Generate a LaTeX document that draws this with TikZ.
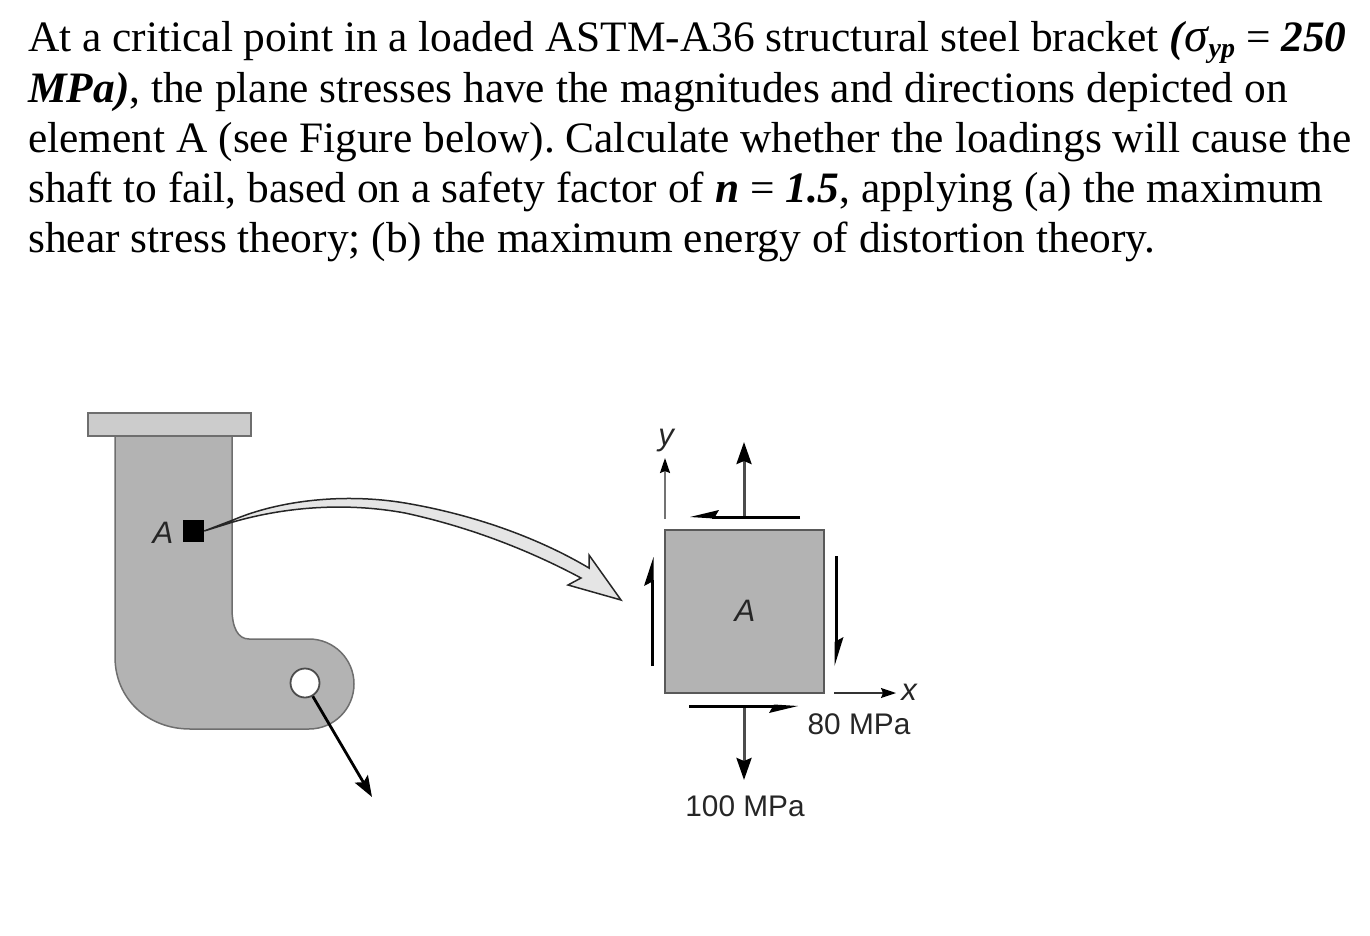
\documentclass[tikz,border=0pt]{standalone}
\usepackage{fontspec}
\setmainfont{Liberation Serif}
\newfontfamily\labelfont{Liberation Sans}
\usetikzlibrary{arrows.meta}
\definecolor{steel}{HTML}{B3B3B3}
\definecolor{plate}{HTML}{CCCCCC}
\definecolor{edge}{HTML}{6E6E6E}
\tikzset{
  textline/.style={anchor=base west,inner sep=0pt,font=\fontsize{43.4}{50}\selectfont\frenchspacing},
  dlabel/.style={inner sep=0pt,font=\labelfont\fontsize{29.8}{32}\selectfont,text=black!85},
  ilabel/.style={inner sep=0pt,font=\labelfont\itshape\fontsize{31}{32}\selectfont,text=black!85},
  stress/.style={draw=black!70,line width=3pt,-{Stealth[length=22pt,width=15pt,inset=3pt,black]}},
  axisline/.style={draw=black!55,line width=1.8pt,-{Stealth[length=15pt,width=10pt,inset=2pt,black]}},
  xaxisline/.style={draw=black!80,line width=1.4pt,-{Stealth[length=15pt,width=10pt,inset=2pt,black]}},
  load/.style={draw=black,line width=2.8pt,-{Stealth[length=21pt,width=15pt,inset=4pt,black]}},
  shear/.style={draw=black,line width=3pt},
  halfhead/.style={fill=black},
}
\begin{document}
\begin{tikzpicture}[x=1pt,y=-1pt]
\useasboundingbox (0,0) rectangle (1370,936);
% problem text
\node[textline] (t1) at (28,52) {At a critical point in a loaded ASTM-A36 structural steel bracket {\bfseries\itshape(}\kern1pt{\itshape\fontsize{48}{50}\selectfont σ}{\bfseries\itshape\raisebox{-6pt}{\fontsize{28}{30}\selectfont yp}}\kern 11pt{}= {\bfseries\itshape 250}};
\node[textline] (t2) at (28,102.5) {{\bfseries\itshape MPa)}, the plane stresses have the magnitudes and directions depicted on};
\node[textline] (t3) at (28,152.5) {element A (see Figure below). Calculate whether the loadings will cause the};
\node[textline] (t4) at (28,202.5) {shaft to fail, based on a safety factor of {\bfseries\itshape n} = {\bfseries\itshape 1.5}, applying (a) the maximum};
\node[textline] (t5) at (28,252.5) {shear stress theory; (b) the maximum energy of distortion theory.};
% bracket
\draw[fill=steel,draw=edge,line width=1.5pt]
  (115,436) -- (115,657) .. controls (115,699) and (148,729) .. (190,729)
  -- (309,729) arc[start angle=90,end angle=-90,radius=45]
  -- (249,639) .. controls (238,639) and (232,628) .. (232,608) -- (232,436) -- cycle;
\draw[fill=plate,draw=edge,line width=1.6pt] (88,413) rectangle (251,436);
\node[draw=black!70,fill=white,line width=1.8pt,circle,minimum size=29pt,inner sep=0pt] (hole) at (305,683) {};
\coordinate (loadend) at (372,797);
\draw[load] (hole) -- (loadend);
\node[fill=black,minimum width=21pt,minimum height=22pt,inner sep=0pt] (pointA) at (193.5,531) {};
\node[ilabel] (labA) at (163,533) {A};
% big curved arrow
\draw[fill=black!10,draw=black!85,line width=1.5pt,line join=miter]
  (pointA.east) -- (233,520) .. controls (280,500) and (345,493) .. (405,503)
  .. controls (470,514) and (535,536) .. (589,568) -- (589,555) -- (621,600) -- (568,585) -- (581,578)
  .. controls (525,548) and (465,526) .. (405,513)
  .. controls (345,502) and (285,507) .. (233,522) -- cycle;
% stress element
\node[draw=black!65,fill=steel,line width=2pt,minimum width=159pt,minimum height=163pt,inner sep=0pt,anchor=north west] (elem) at (664,529) {};
\node[ilabel] (labE) at (745,611) {A};
% axes
\coordinate (yfrom) at (665,519); \coordinate (yto) at (665,458);
\coordinate (xfrom) at (834,693); \coordinate (xto) at (896,693);
\draw[axisline] (yfrom) -- (yto);
\draw[xaxisline] (xfrom) -- (xto);
\node[ilabel] (laby) at (666,441) {y};
\node[ilabel] (labx) at (909,692) {x};
% normal stresses
\coordinate (ntop0) at (744,517); \coordinate (ntop1) at (744,442);
\coordinate (nbot0) at (744,706); \coordinate (nbot1) at (744,780);
\draw[stress] (ntop0) -- (ntop1);
\draw[stress] (nbot0) -- (nbot1);
% shear stresses with half heads
\coordinate (st0) at (800,517); \coordinate (st1) at (690,517);
\draw[shear] (st0) -- (712,517);
\fill[halfhead] (st1) -- (719,510) -- (714,518.5) -- cycle;
\coordinate (sb0) at (689,706); \coordinate (sb1) at (798,706);
\draw[shear] (sb0) -- (776,706);
\fill[halfhead] (sb1) -- (769,713) -- (774,704.5) -- cycle;
\coordinate (sl0) at (652,666); \coordinate (sl1) at (652,557);
\draw[shear] (sl0) -- (652,580);
\fill[halfhead] (653.5,557) -- (644,586) -- (653.5,581) -- cycle;
\coordinate (sr0) at (836,556); \coordinate (sr1) at (836,666);
\draw[shear] (sr0) -- (836,644);
\fill[halfhead] (834.5,666) -- (843.5,637) -- (834.5,642) -- cycle;
% values
\node[dlabel] (v80) at (859,724) {80 MPa};
\node[dlabel] (v100) at (745,806) {100 MPa};
\end{tikzpicture}
\end{document}
